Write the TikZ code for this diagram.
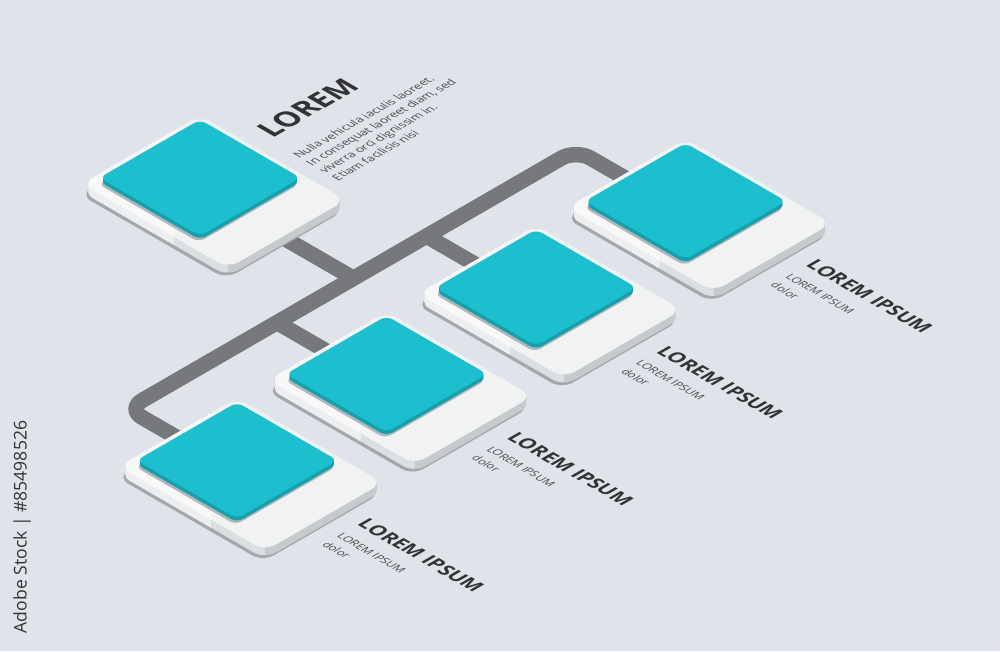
\documentclass[tikz,border=0pt]{standalone}
\usepackage{fontspec}
\setmainfont{Open Sans}
\usetikzlibrary{calc}

\definecolor{bgblue}{HTML}{DFE4EB}
\definecolor{wiregrey}{HTML}{77787B}
\definecolor{tiletop}{HTML}{1DBFCF}
\definecolor{tileside}{HTML}{16A0AE}
\definecolor{tileshadow}{HTML}{B1B6B9}
\definecolor{slabtop}{HTML}{F1F2F2}
\definecolor{slabglow}{HTML}{F8F8F9}
\definecolor{slableft}{HTML}{DCDFE2}
\definecolor{slabpale}{HTML}{ECEEF0}
\definecolor{slabright}{HTML}{C5CACE}
\definecolor{slabshadow}{HTML}{A4A8AB}
\definecolor{inkdark}{HTML}{333333}
\definecolor{inkgrey}{HTML}{4A4A4A}

\pgfdeclarelayer{wires}
\pgfsetlayers{wires,main}

\newcommand{\slabpath}{(-54,-54) -- (92,-54) -- (92,64) -- (-54,64) -- cycle}
\newcommand{\tilepath}{(-50.5,-50.5) -- (50,-50.5) -- (50,50) -- (-50.5,50) -- cycle}

\tikzset{
  wire/.style={draw=wiregrey, line width=11pt, rounded corners=12pt},
  isolabel/.style={cm={1,-0.578,1,0.578,(0,0)}, anchor=base west,
    inner sep=0pt, text=inkdark},
  isotitle/.style={cm={1,0.578,-1,0.578,(0,0)}, anchor=base west,
    inner sep=0pt, text=inkdark},
  platform/.pic={
    % shadow of the slab
    \fill[slabshadow, xshift=-0.5mm, yshift=-2.7mm, rounded corners=9pt] \slabpath;
    % slab sides
    \foreach \s in {0.25,0.5,0.75,1,1.25,1.5,1.75,2}
      \fill[slabright, yshift=-\s mm, rounded corners=9pt] \slabpath;
    \begin{scope}
      \clip (-40mm,-40mm) rectangle (7mm,40mm);
      \foreach \s in {0.25,0.5,0.75,1,1.25,1.5,1.75,2}
        \fill[slableft, yshift=-\s mm, rounded corners=9pt] \slabpath;
    \end{scope}
    \begin{scope}
      \clip (-40mm,-40mm) rectangle (-6.5mm,40mm);
      \foreach \s in {0.25,0.5,0.75,1,1.25,1.5,1.75,2}
        \fill[slabpale, yshift=-\s mm, rounded corners=9pt] \slabpath;
    \end{scope}
    % slab top
    \fill[slabtop, rounded corners=9pt] \slabpath;
    \begin{scope}
      \clip (-40mm,-40mm) rectangle (-6.5mm,40mm);
      \fill[slabglow, rounded corners=9pt] \slabpath;
    \end{scope}
    % cyan tile
    \fill[tileshadow, xshift=-0.3mm, yshift=-1.6mm, rounded corners=5pt] \tilepath;
    \foreach \s in {0.25,0.5,0.75,1}
      \fill[tileside, yshift=-\s mm, rounded corners=5pt] \tilepath;
    \fill[tiletop, rounded corners=5pt] \tilepath;
    \coordinate (-in) at (-27,10);
    \coordinate (-out) at (60,10);
    \coordinate (-lab) at (115,-4);
    \coordinate (-sub) at (115,16);
    \coordinate (-dol) at (115,31);
  }
}

\begin{document}
\begin{tikzpicture}[x={(0.25mm,-0.1445mm)}, y={(-0.25mm,-0.1445mm)}]

\begin{pgfonlayer}{wires}
\path[use as bounding box, fill=bgblue] (0mm,0mm) rectangle (250mm,-162.75mm);
\end{pgfonlayer}

% platforms
\pic (p1) at (254,54) {platform};
\pic (p2) at (517,-168.5) {platform};
\pic (p3) at (517,-19) {platform};
\pic (p4) at (517,130.5) {platform};
\pic (p5) at (517,280) {platform};

% connectors
\coordinate (bend1) at (417.5,290);
\coordinate (bend2) at (417.5,-158.5);
\coordinate (tee1) at (417.5,64);
\coordinate (tee3) at (417.5,-9);
\coordinate (tee4) at (417.5,140.5);

\begin{pgfonlayer}{wires}
\draw[wire] (p5-in) -- (bend1) -- (bend2) -- (p2-in);
\draw[wire] (tee1) -- (p1-out);
\draw[wire] (tee3) -- (p3-in);
\draw[wire] (tee4) -- (p4-in);
\end{pgfonlayer}

% title block
\node[isotitle, font=\fontsize{18}{20}\selectfont\bfseries] (title) at (256,-16) {LOREM};
\node[isotitle, anchor=north west, align=left, text=inkgrey,
  font=\fontsize{7.2}{9.2}\selectfont] (blurb) at (279,-12)
  {Nulla vehicula iaculis laoreet.\\In consequat laoreet diam, sed\\viverra orci dignissim in.\\Etiam facilisis nisi};

% labels
\node[isolabel, font=\fontsize{12}{14}\selectfont\bfseries] (head2) at (p2-lab) {LOREM IPSUM};
\node[isolabel, text=inkgrey, font=\fontsize{6.8}{8}\selectfont] (sub2) at (p2-sub) {LOREM IPSUM};
\node[isolabel, text=inkgrey, font=\fontsize{6.8}{8}\selectfont] (dol2) at (p2-dol) {dolor};

\node[isolabel, font=\fontsize{12}{14}\selectfont\bfseries] (head3) at (p3-lab) {LOREM IPSUM};
\node[isolabel, text=inkgrey, font=\fontsize{6.8}{8}\selectfont] (sub3) at (p3-sub) {LOREM IPSUM};
\node[isolabel, text=inkgrey, font=\fontsize{6.8}{8}\selectfont] (dol3) at (p3-dol) {dolor};

\node[isolabel, font=\fontsize{12}{14}\selectfont\bfseries] (head4) at (p4-lab) {LOREM IPSUM};
\node[isolabel, text=inkgrey, font=\fontsize{6.8}{8}\selectfont] (sub4) at (p4-sub) {LOREM IPSUM};
\node[isolabel, text=inkgrey, font=\fontsize{6.8}{8}\selectfont] (dol4) at (p4-dol) {dolor};

\node[isolabel, font=\fontsize{12}{14}\selectfont\bfseries] (head5) at (p5-lab) {LOREM IPSUM};
\node[isolabel, text=inkgrey, font=\fontsize{6.8}{8}\selectfont] (sub5) at (p5-sub) {LOREM IPSUM};
\node[isolabel, text=inkgrey, font=\fontsize{6.8}{8}\selectfont] (dol5) at (p5-dol) {dolor};

% stock tag
\node[rotate=90, text=inkdark, font=\fontsize{12.5}{14}\selectfont] (stamp) at (5.5mm,-131.75mm) {Adobe Stock | \#85498526};

\end{tikzpicture}
\end{document}
